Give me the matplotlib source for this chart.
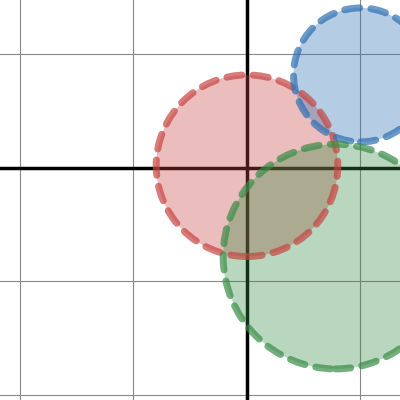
import matplotlib
matplotlib.use("Agg")
import matplotlib.pyplot as plt
from matplotlib.patches import Circle

names = ["red", "blue", "green"]
centers_x = [0.0, 1.0, 0.78]
centers_y = [0.02, 0.82, -0.78]
radii = [0.8, 0.59, 0.99]
colors = ["#c74440", "#2d70b3", "#388c46"]

fig = plt.figure(figsize=(4, 4), dpi=100)
ax = fig.add_axes([0, 0, 1, 1])
ax.set_xlim(-2.176, 1.348)
ax.set_ylim(-2.044, 1.48)
for v in [-2, -1, 1]:
    ax.axvline(v, color="#888888", lw=0.8, zorder=0)
    ax.axhline(v, color="#888888", lw=0.8, zorder=0)
ax.axvline(0, color="black", lw=2.5, zorder=1)
ax.axhline(0, color="black", lw=2.5, zorder=1)
for cx, cy, r, c in zip(centers_x, centers_y, radii, colors):
    ax.add_patch(Circle((cx, cy), r, facecolor=c, alpha=0.35, edgecolor="none", zorder=2))
    ax.add_patch(Circle((cx, cy), r, facecolor="none", edgecolor=c, alpha=0.7,
                        lw=5, linestyle=(0, (2.2, 1.6)), capstyle="round", zorder=3))
ax.set_xticks([]); ax.set_yticks([])
for s in ax.spines.values():
    s.set_visible(False)
fig.savefig("out.png", dpi=100)
